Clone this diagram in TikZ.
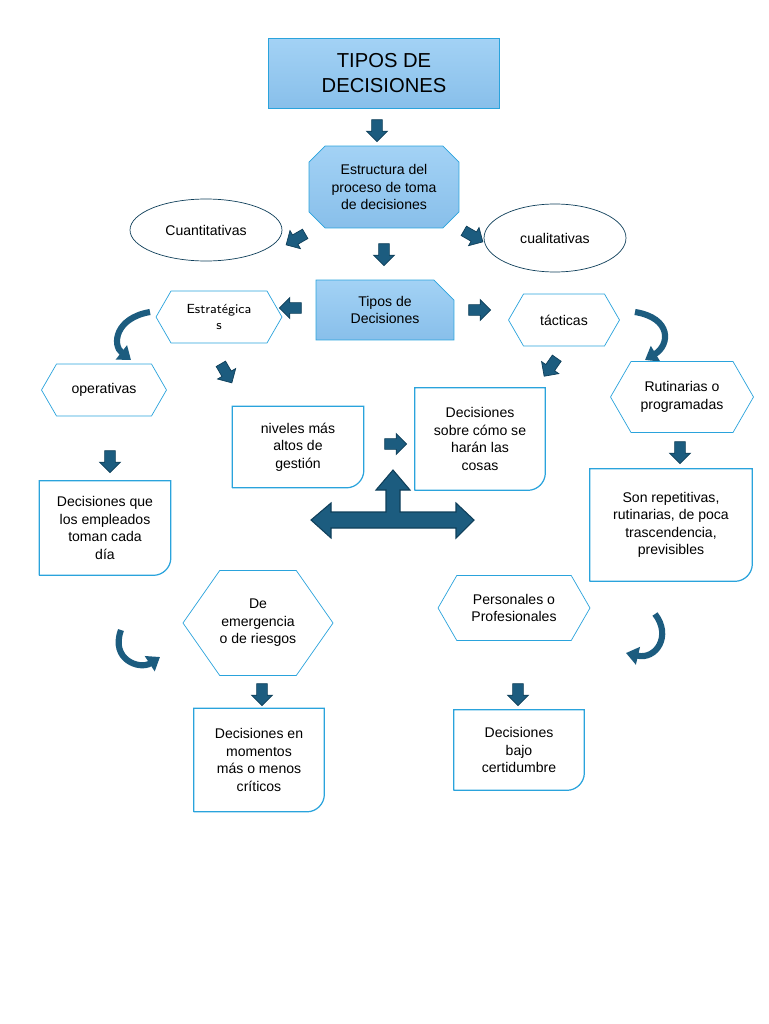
\documentclass[tikz,border=0pt]{standalone}
\usepackage{fontspec}
\setmainfont{Liberation Sans}
\usepackage{tikz}
\usetikzlibrary{arrows.meta,shapes.arrows,shapes.misc,shapes.symbols,shapes.geometric}
\definecolor{boxline}{HTML}{2AA3DC}
\definecolor{arrowfill}{HTML}{1C5C7F}
\definecolor{arrowline}{HTML}{0F3F5A}
\definecolor{lightfill}{HTML}{A3D2F5}
\definecolor{darkfill}{HTML}{88BFEA}
\newcommand{\cutbox}[1]{\draw[boxline,line width=0.7pt] (#1.south west) -- (#1.north west) -- (#1.north east) {[rounded corners=10pt] -- (#1.south east)} -- (#1.south west);}
\begin{document}
\begin{tikzpicture}[x=0.02cm,y=-0.02cm,font=\fontsize{8pt}{10pt}\selectfont]
\tikzstyle{filled}=[draw=boxline,top color=lightfill,bottom color=darkfill,align=center,inner sep=0pt];
\tikzstyle{plain}=[align=center,inner sep=0pt];
\tikzstyle{hexa}=[draw=boxline,fill=white,shape=signal,signal to=west and east,signal pointer angle=120,align=center,inner sep=0pt];
\tikzstyle{oval}=[draw=arrowline,ellipse,fill=white,align=center];
\tikzstyle{down}=[single arrow,fill=arrowfill,draw=arrowline,inner sep=2.2pt,minimum height=0.44cm,minimum width=0.42cm,single arrow head extend=0.08cm];
\tikzstyle{curve}=[arrowfill,line width=3.5pt,-{Triangle[length=7pt,width=10pt]}];
\useasboundingbox (0,0) rectangle (768,1024);
% top
\node[filled,rectangle,minimum width=4.62cm,minimum height=1.4cm,font=\fontsize{11.5pt}{14pt}\selectfont] (title) at (384,73) {TIPOS DE\\DECISIONES};
\node[down,rotate=-90] (a1) at (377,128) {};
\node[filled,chamfered rectangle,chamfered rectangle xsep=0.16cm,chamfered rectangle ysep=0.16cm,minimum width=3cm,minimum height=1.64cm] (estr) at (384,187) {Estructura del\\proceso de toma\\de decisiones};
\node[oval,minimum width=3.04cm,minimum height=1.24cm] (cuan) at (206,230) {Cuantitativas};
\node[oval,minimum width=2.84cm,minimum height=1.36cm] (cual) at (555,238) {cualitativas};
\node[down,rotate=-150] (a2) at (298,238) {};
\node[down,rotate=-90] (a3) at (384,252) {};
\node[down,rotate=-30] (a4) at (471,235) {};
% second level
\node[filled,chamfered rectangle,chamfered rectangle corners=north east,chamfered rectangle xsep=0.2cm,chamfered rectangle ysep=0.2cm,minimum width=2.76cm,minimum height=1.2cm] (tipos) at (385,310) {Tipos de\\Decisiones};
\node[hexa,minimum width=2.52cm,minimum height=1.04cm,font=\fontsize{7.5pt}{9pt}\sffamily] (estra) at (219,317) {Estratégica\\s};
\node[hexa,minimum width=2.22cm,minimum height=1.04cm] (tact) at (564,320) {tácticas};
\node[down,rotate=180] (a5) at (293,308) {};
\node[down] (a6) at (477,310) {};
\draw[curve] (150,312) .. controls (115,318) and (112,345) .. (131,360);
\draw[curve] (635,312) .. controls (672,318) and (670,345) .. (645,360);
\node[hexa,minimum width=2.5cm,minimum height=1.04cm] (oper) at (104,390) {operativas};
\node[down,rotate=-60] (a7) at (225,371) {};
\node[down,rotate=-125] (a8) at (552,365) {};
\node[hexa,minimum width=2.86cm,minimum height=1.42cm] (rutin) at (682,397) {Rutinarias o\\programadas};
% middle boxes
\node[plain,minimum width=2.62cm,minimum height=1.62cm] (nivel) at (298,447) {niveles más\\altos de\\gestión};
\cutbox{nivel}
\node[down] (a9) at (393,444) {};
\node[plain,minimum width=2.6cm,minimum height=2.04cm] (sobre) at (480,439) {Decisiones\\sobre cómo se\\harán las\\cosas};
\cutbox{sobre}
\node[down,rotate=-90] (a10) at (680,450) {};
\node[down,rotate=-90] (a11) at (110,459) {};
\node[plain,minimum width=2.62cm,minimum height=1.88cm] (emple) at (105,528) {Decisiones que\\los empleados\\toman cada\\día};
\cutbox{emple}
\node[plain,minimum width=3.24cm,minimum height=2.24cm] (repet) at (671,525) {Son repetitivas,\\rutinarias, de poca\\trascendencia,\\previsibles};
\cutbox{repet}
\coordinate (cross) at (393,520);
\fill[arrowfill,draw=arrowline,line width=0.6pt] (311,520) -- (331,503) -- (331,512) -- (386,512) -- (386,490) -- (376,490) -- (393,470) -- (410,490) -- (400,490) -- (400,512) -- (456,512) -- (456,503) -- (474,520) -- (456,538) -- (456,528) -- (331,528) -- (331,538) -- cycle;
% bottom
\node[hexa,signal pointer angle=110,minimum width=2.96cm,minimum height=2.1cm] (emerg) at (258,623) {De\\emergencia\\o de riesgos};
\node[hexa,minimum width=3.04cm,minimum height=1.3cm] (perso) at (514,608) {Personales o\\Profesionales};
\draw[curve] (121,630) .. controls (110,660) and (140,670) .. (160,657);
\draw[curve] (655,614) .. controls (672,636) and (656,660) .. (626,653);
\node[down,rotate=-90] (a12) at (262,692) {};
\node[down,rotate=-90] (a13) at (518,692) {};
\node[plain,minimum width=2.6cm,minimum height=2.06cm] (critic) at (259,760) {Decisiones en\\momentos\\más o menos\\críticos};
\cutbox{critic}
\node[plain,minimum width=2.6cm,minimum height=1.6cm] (bajo) at (519,750) {Decisiones\\bajo\\certidumbre};
\cutbox{bajo}
\end{tikzpicture}
\end{document}
